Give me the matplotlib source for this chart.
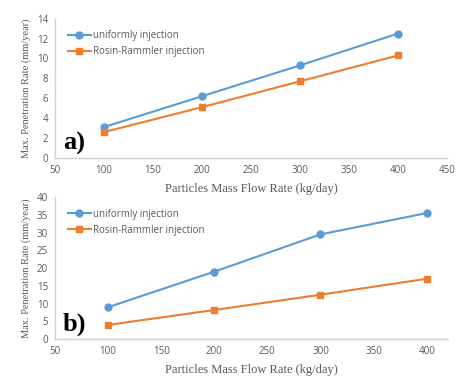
import numpy as np
import matplotlib
matplotlib.use("Agg")
import matplotlib.pyplot as plt

# data
flow = [100, 200, 300, 400]
uni_a = [3.1, 6.2, 9.3, 12.5]
rr_a = [2.6, 5.1, 7.7, 10.3]
uni_b = [9.0, 19.0, 29.5, 35.5]
rr_b = [4.0, 8.2, 12.5, 17.0]

names = ["uniformly injection", "Rosin-Rammler injection"]
blue = "#5B9BD5"
orange = "#ED7D31"
grey = "#595959"

fig = plt.figure(figsize=(4.74, 3.88), dpi=100)
axa = fig.add_axes([0.116, 0.593, 0.827, 0.359])
axb = fig.add_axes([0.116, 0.126, 0.829, 0.366])

panels = [
  (axa, uni_a, rr_a, (50, 450), np.arange(50, 451, 50), (0, 14), np.arange(0, 15, 2), "a)"),
  (axb, uni_b, rr_b, (50, 420), np.arange(50, 401, 50), (0, 40), np.arange(0, 41, 5), "b)"),
]

for ax, u, r, xl, xt, yl, yt, tag in panels:
  ax.plot(flow, u, color=blue, marker="o", ms=5, lw=1.5, label=names[0])
  ax.plot(flow, r, color=orange, marker="s", ms=5, lw=1.5, label=names[1])
  ax.set_xlim(*xl)
  ax.set_ylim(*yl)
  ax.set_xticks(xt)
  ax.set_yticks(yt)
  for s in ["top", "right"]:
    ax.spines[s].set_visible(False)
  for s in ["left", "bottom"]:
    ax.spines[s].set_color("#d0d0d0")
    ax.spines[s].set_linewidth(1.0)
  ax.tick_params(length=0, labelsize=7, labelcolor=grey, pad=5)
  for lab in ax.get_xticklabels() + ax.get_yticklabels():
    lab.set_family("Open Sans")
  ax.set_xlabel("Particles Mass Flow Rate (kg/day)", family="Liberation Serif",
                fontsize=9, color=grey, labelpad=5)
  ax.set_ylabel("Max. Penetration Rate (mm/year)", family="Liberation Serif",
                fontsize=7.5, color=grey, labelpad=4)
  ax.text(0.02, 0.02, tag, transform=ax.transAxes, family="Liberation Serif",
          fontsize=19, fontweight="bold", color="black", va="bottom", ha="left")
  leg = ax.legend(loc="upper left", bbox_to_anchor=(0.01, 0.98), frameon=False,
                  handlelength=2.4, handletextpad=0.2, labelspacing=0.5,
                  prop={"family": "Open Sans", "size": 7})
  for t in leg.get_texts():
    t.set_color(grey)

fig.savefig("out.png", dpi=100)
